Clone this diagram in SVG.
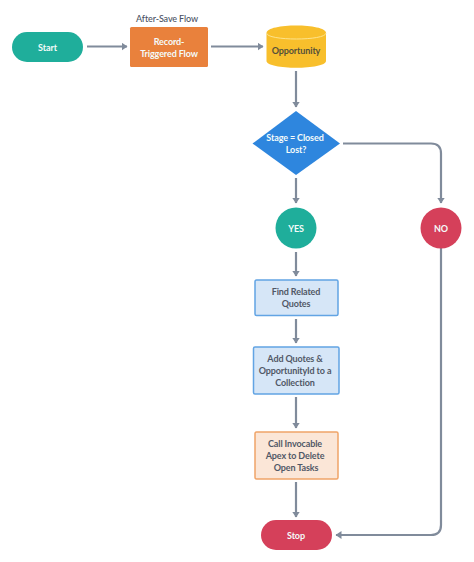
<svg xmlns="http://www.w3.org/2000/svg" width="474" height="562" viewBox="0 0 474 562">
<style>
text{font-family:"Lato","Liberation Sans",sans-serif;font-size:9px;font-weight:700;text-anchor:middle;letter-spacing:-.12px}
.w{fill:#f4fbfa}.d{fill:#515866}
.c{fill:none;stroke:#808b9b;stroke-width:2.2}
</style>
<defs><marker id="a" markerUnits="userSpaceOnUse" markerWidth="7" markerHeight="8" refX="5.5" refY="4" orient="auto"><path d="M0 0L6 4L0 8z" fill="#808b9b"/></marker></defs>
<rect width="474" height="562" fill="#fff"/>
<g id="connectors">
<path class="c" marker-end="url(#a)" d="M87 46.500H127"/>
<path class="c" marker-end="url(#a)" d="M211 46.500H263"/>
<path class="c" marker-end="url(#a)" d="M296 71V107"/>
<path class="c" marker-end="url(#a)" d="M296 178V203"/>
<path class="c" marker-end="url(#a)" d="M296 252V276"/>
<path class="c" marker-end="url(#a)" d="M296 319V343"/>
<path class="c" marker-end="url(#a)" d="M296 397V428"/>
<path class="c" marker-end="url(#a)" d="M296 482V517"/>
<path class="c" marker-end="url(#a)" d="M343 143.500H431Q441 143.500 441 153.500V203"/>
<path class="c" marker-end="url(#a)" d="M441 248V525Q441 535 431 535H336"/>
</g>
<g id="start"><rect x="12" y="32" width="71" height="30" rx="15" fill="#1fae9b"/><text class="w" x="47.500" y="50.500">Start</text></g>
<g id="flow-label"><text x="167" y="21.500" fill="#4a5263" style="font-weight:500">After-Save Flow</text></g>
<g id="record"><rect x="130" y="27" width="78" height="40" rx="1.500" fill="#e9813c"/><text class="w" x="169" y="44.500">Record-</text><text class="w" x="169" y="56.500">Triggered Flow</text></g>
<g id="opportunity"><path d="M266.500 33C266.500 23 326 23 326 33V61C326 70 266.500 70 266.500 61z" fill="#f8bf2c"/><path d="M266.500 33C266.500 41 326 41 326 33" fill="none" stroke="#fde38c" stroke-width="1"/><text x="296" y="53.500" fill="#55503a">Opportunity</text></g>
<g id="decision"><path d="M296 111L340 143.500L296 175L252.500 143.500z" fill="#2e86de"/><text class="w" x="295" y="141">Stage = Closed</text><text class="w" x="296" y="153">Lost?</text></g>
<g id="yes"><circle cx="296" cy="228" r="20.500" fill="#1fae9b"/><text class="w" x="296" y="231.500">YES</text></g>
<g id="no"><circle cx="441" cy="228" r="20.500" fill="#d5405a"/><text class="w" x="441" y="231.500">NO</text></g>
<g id="find"><rect x="255" y="280" width="83" height="35.500" rx="1.500" fill="#d6e6f7" stroke="#62a4e4" stroke-width="1.500"/><text class="d" x="296" y="295">Find Related</text><text class="d" x="296" y="307">Quotes</text></g>
<g id="add"><rect x="253.500" y="347" width="85.500" height="47" rx="1.500" fill="#d6e6f7" stroke="#62a4e4" stroke-width="1.500"/><text class="d" x="295" y="362">Add Quotes &amp;</text><text class="d" x="295" y="374">OpportunityId to a</text><text class="d" x="295" y="386">Collection</text></g>
<g id="invoke"><rect x="255" y="432" width="83" height="47" rx="1.500" fill="#fbe6d7" stroke="#f0a468" stroke-width="1.500"/><text class="d" x="295" y="447">Call Invocable</text><text class="d" x="295" y="459">Apex to Delete</text><text class="d" x="296" y="471">Open Tasks</text></g>
<g id="stop"><rect x="261" y="520" width="71" height="30" rx="15" fill="#d5405a"/><text class="w" x="296" y="538.500">Stop</text></g>
</svg>
